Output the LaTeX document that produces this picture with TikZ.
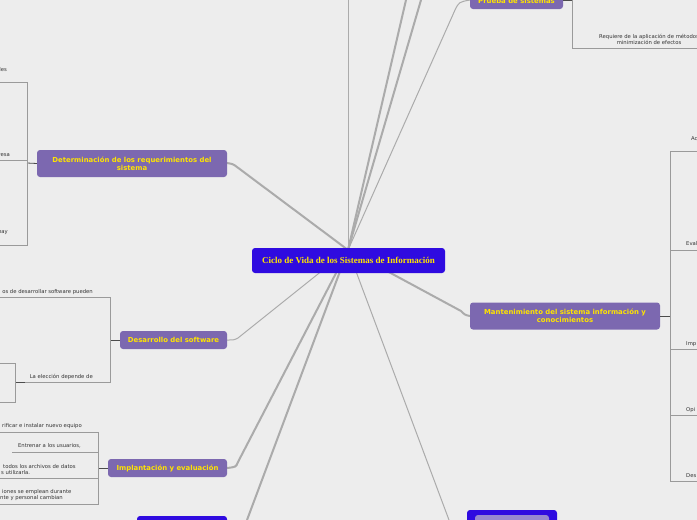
\documentclass[tikz,border=0pt]{standalone}
\usepackage{fontspec}
\setmainfont{DejaVu Sans}
\newfontfamily\titlefont{Liberation Serif}
\definecolor{bg}{HTML}{EDEDED}
\definecolor{purp}{HTML}{7C68B0}
\definecolor{blu}{HTML}{2F0BE0}
\definecolor{ylw}{HTML}{FFE400}
\definecolor{lbl}{HTML}{333333}
\definecolor{ln}{HTML}{ABABAB}
\definecolor{br}{HTML}{9A9A9A}
\tikzset{
  topic/.style={fill=purp,rounded corners=3pt,text=ylw,font=\fontsize{6.9}{8}\selectfont\bfseries,align=center,inner sep=0pt},
  center/.style={fill=blu,rounded corners=3pt,text=ylw,font=\titlefont\fontsize{9}{10}\selectfont\bfseries,inner sep=0pt},
  lab/.style={text=lbl,font=\fontsize{5.3}{6.4}\selectfont,inner sep=0pt},
  thick link/.style={draw=ln,line width=2pt},
  thin link/.style={draw=ln,line width=1pt},
  bracket/.style={draw=br,line width=0.8pt},
}
\begin{document}
\begin{tikzpicture}[x=1pt,y=-1pt]
\useasboundingbox (0,0) rectangle (697,520);
\fill[bg] (0,0) rectangle (697,520);
\coordinate (hub) at (348,250);
\draw[thin link] (hub) -- (348,0);
\draw[thick link] (hub) -- (406,0);
\draw[thick link] (hub) -- (421,0);
\draw[thin link] (hub) -- (455,10) .. controls (459,2) .. (470,0);
\draw[thick link] (hub) -- (237,167) .. controls (233,164) .. (227,163);
\draw[thin link] (hub) -- (238,338) .. controls (234,340) .. (227,340);
\draw[thick link] (hub) -- (238,462) .. controls (236,467) .. (227,468);
\draw[thick link] (hub) -- (247,520);
\draw[thick link] (hub) -- (461,311) .. controls (465,315) .. (470,316);
\draw[thin link] (hub) -- (449,520);
\node[center,minimum width=193pt,minimum height=25pt] (c) at (348.5,260.5) {Ciclo de Vida de los Sistemas de Información};
\node[topic,minimum width=93pt,minimum height=17pt] (prueba) at (516.5,0.5) {Prueba de sistemas};
\node[topic,minimum width=190pt,minimum height=27pt] (det) at (132,163.5) {Determinación de los requerimientos del\\sistema};
\node[topic,minimum width=107pt,minimum height=18pt] (des) at (173.5,340) {Desarrollo del software};
\node[topic,minimum width=119pt,minimum height=18pt] (imp) at (167.5,468) {Implantación y evaluación};
\node[topic,minimum width=190pt,minimum height=27pt] (man) at (565,316) {Mantenimiento del sistema información y\\conocimientos};
\fill[blu,rounded corners=3pt] (137,516) rectangle (227,530);
\fill[blu,rounded corners=3pt] (467,510) rectangle (557,530);
\fill[purp!80!blu!70!white,rounded corners=3pt] (475,515) rectangle (549,530);
\draw[bracket,draw=black!70] (det.west) -- (27,163);
\draw[bracket] (0,82) -- (27,82) -- (27,245) -- (0,245);
\draw[bracket] (0,160) -- (27,160);
\node[lab,anchor=east] at (7,70) {les};
\node[lab,anchor=east] at (10,155) {resa};
\node[lab,anchor=east] at (8,232) {hay};
\draw[bracket,draw=black!70] (des.west) -- (110,340);
\draw[bracket] (0,297) -- (110,297) -- (110,382) -- (25,382);
\node[lab,anchor=east] at (93,292) {os de desarrollar software pueden};
\node[lab,anchor=east] at (93,377) {La elección depende de};
\draw[bracket,draw=black!70] (25,382) -- (15,382);
\draw[bracket] (0,363) -- (15,363) -- (15,402) -- (0,402);
\draw[bracket,draw=black!70] (imp.west) -- (98,468);
\draw[bracket] (0,432) -- (98,432) -- (98,504) -- (0,504);
\draw[bracket] (12,452) -- (98,452);
\draw[bracket] (0,478) -- (98,478);
\node[lab,anchor=east] at (82,426.5) {rificar e instalar nuevo equipo};
\node[lab,anchor=east] at (81,446) {Entrenar a los usuarios,};
\node[lab,anchor=west,align=left] at (1,469.5) {\hspace*{2pt}todos los archivos de datos\\s utilizarla.};
\node[lab,anchor=west,align=left] at (0,495) {\hspace*{2pt}iones se emplean durante\\nte y personal cambian};
\draw[bracket,draw=black!70] (prueba.east) -- (572,0.5);
\draw[bracket] (572,0) -- (572,48) -- (697,48);
\node[lab,anchor=west,align=center] at (599,39.5) {Requiere de la aplicación de métodos\\minimización de efectos};
\draw[bracket,draw=black!70] (man.east) -- (670,316);
\draw[bracket] (697,151) -- (670,151) -- (670,481) -- (697,481);
\foreach \yy in {250,349,415} \draw[bracket] (670,\yy) -- (697,\yy);
\node[lab,anchor=west] at (691,139) {Ac};
\node[lab,anchor=west] at (686,244) {Eval};
\node[lab,anchor=west] at (686,344) {Imp};
\node[lab,anchor=west] at (686,410) {Opi};
\node[lab,anchor=west] at (686,476) {Des};
\end{tikzpicture}
\end{document}
